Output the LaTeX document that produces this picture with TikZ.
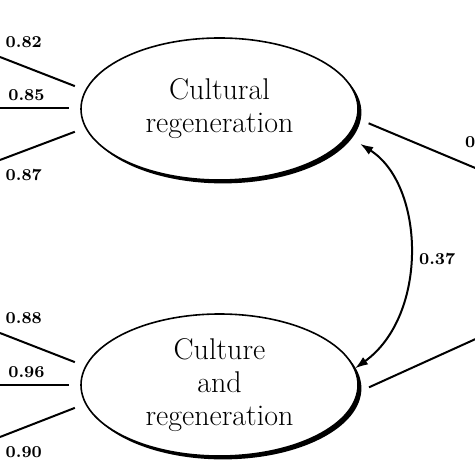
\documentclass[tikz,border=0pt]{standalone}
\usepackage{tikz}
\usetikzlibrary{positioning,arrows.meta,shapes.geometric,shadows}
\tikzset{
    factor/.style={ellipse,draw,line width=0.8pt,fill=white,inner sep=0pt,
        minimum width=138.5pt,minimum height=71pt,align=center,
        font=\fontsize{15}{16.5}\selectfont,
        drop shadow={shadow xshift=1.7pt,shadow yshift=-1.7pt,fill=black,opacity=1}},
    load/.style={draw,line width=1pt},
    coef/.style={font=\fontsize{8.3}{9}\selectfont\bfseries,inner sep=1pt},
    corr/.style={line width=1pt,{Latex[length=6.5pt,width=4.5pt]}-{Latex[length=6.5pt,width=4.5pt]}},
}

\begin{document}
\begin{tikzpicture}[x=0.5pt,y=-0.5pt]
    \useasboundingbox (0,0) rectangle (474,474);
    \node[factor] (cr) at (219.5,109) {Cultural\\regeneration};
    \node[factor] (cu) at (219.5,385) {Culture\\and\\regeneration};

    % free ends of the indicator lines
    \coordinate (a1) at (0,57);
    \coordinate (a2) at (0,108);
    \coordinate (a3) at (0,160);
    \coordinate (b1) at (0,333);
    \coordinate (b2) at (0,385);
    \coordinate (b3) at (0,437);
    \coordinate (ra) at (480,170);
    \coordinate (rb) at (480,337);

    \path[load,shorten >=5.5pt]
    (a1) edge node[coef,pos=0.28,above=8pt] {0.82} (cr.172)
    (a2) edge node[coef,pos=0.33,above=2pt] {0.85} (a2 -| cr.west)
    (a3) edge node[coef,pos=0.28,below=7.5pt] {0.87} (cr.188)
    (b1) edge node[coef,pos=0.28,above=8pt] {0.88} (cu.172)
    (b2) edge node[coef,pos=0.33,above=2pt] {0.96} (b2 -| cu.west)
    (b3) edge node[coef,pos=0.28,below=8pt] {0.90} (cu.188);

    \path[load,shorten <=6pt]
    (cr.-4) edge node[coef,pos=0.92,above=7.5pt] {0} (ra)
    (cu.-3) edge (rb);

    \draw[corr,shorten <=7pt] (cr.-12) to[bend left=56]
        node[coef,right=4pt,yshift=-4pt] {0.37} (cu.7);
\end{tikzpicture}
\end{document}
